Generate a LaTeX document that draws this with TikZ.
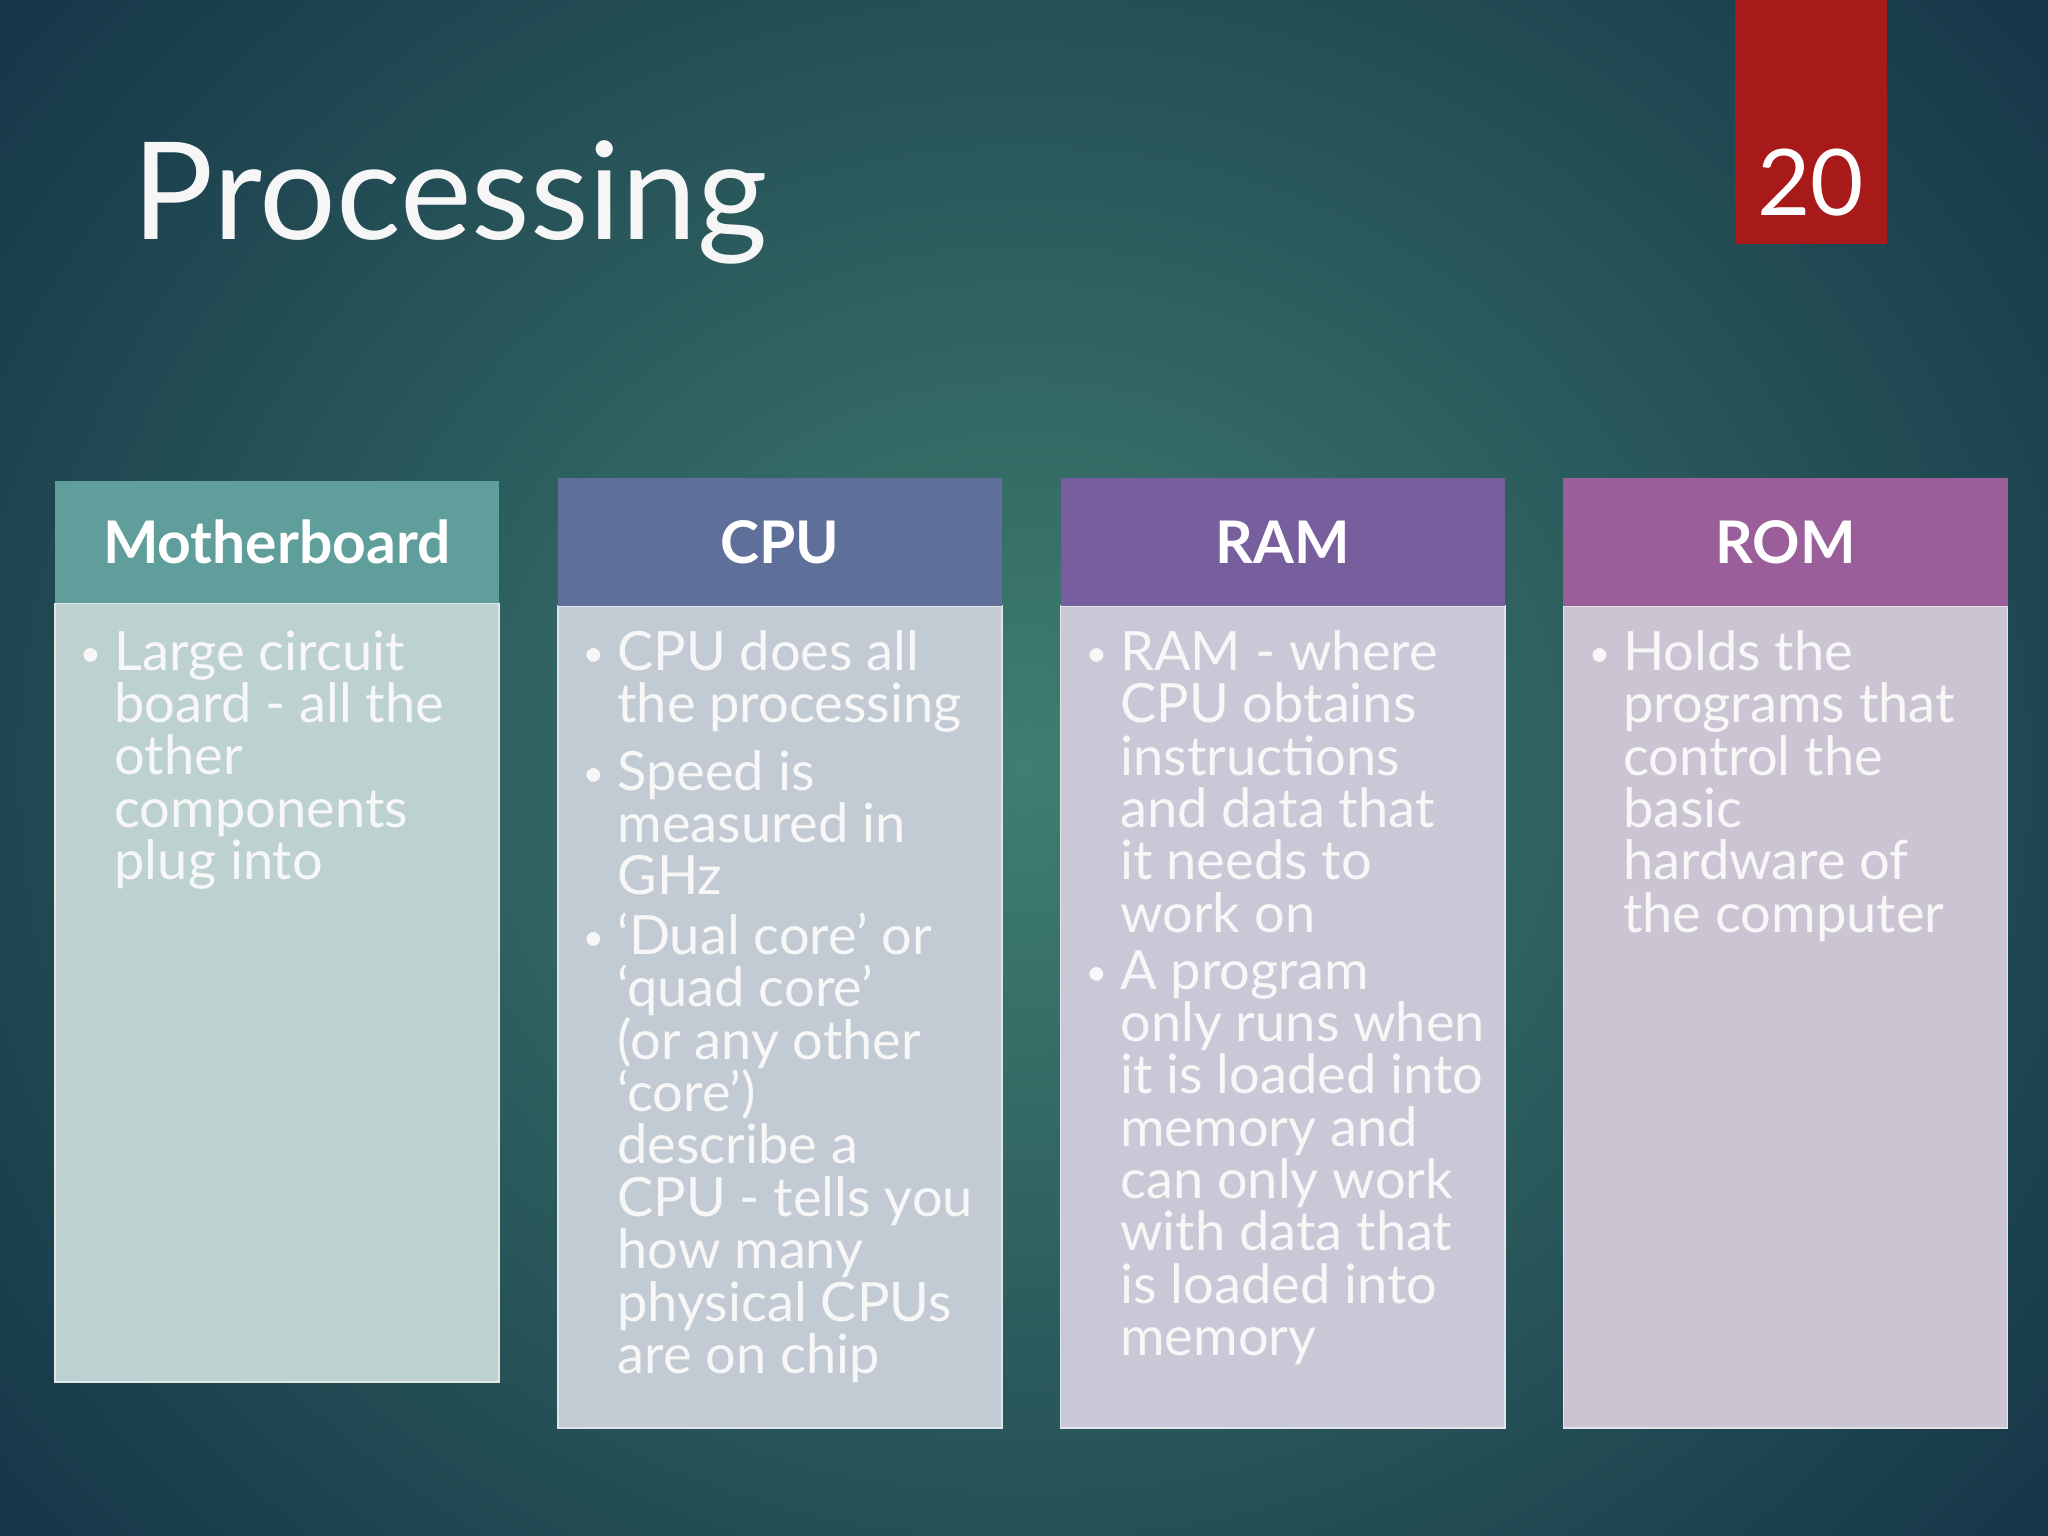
\documentclass[tikz,border=0pt]{standalone}
\usepackage{fontspec}
\setmainfont{Lato}
\begin{document}
\begin{tikzpicture}[x=0.01cm,y=-0.01cm,
  hd/.style={font=\bfseries\fontsize{12.8}{14}\selectfont,text=white},
  bd/.style={anchor=north west,align=none,text=white!94!gray,
    font=\fontsize{11.8}{11.4}\selectfont,inner sep=0pt}]
\useasboundingbox (0,0) rectangle (1568,1176);
\definecolor{bgin}{HTML}{3F7E70}\definecolor{bgout}{HTML}{173849}
\definecolor{h1}{HTML}{5F9E9A}\definecolor{b1}{HTML}{BDD2D0}
\definecolor{h2}{HTML}{5E6F9A}\definecolor{b2}{HTML}{C2CBD4}
\definecolor{h3}{HTML}{775E9C}\definecolor{b3}{HTML}{C8C8D6}
\definecolor{h4}{HTML}{9A5E9A}\definecolor{b4}{HTML}{CBC4D2}
\definecolor{rd}{HTML}{A8191A}
\fill[inner color=bgin,outer color=bgout] (-200,-300) rectangle (1768,1476);
\newcommand{\bl}[1]{\noindent\makebox[0.25cm][l]{\raisebox{0.12em}{\scriptsize$\bullet$}}\parbox[t]{2.9cm}{\raggedright #1}\par\vspace{0.1cm}}
\fill[rd] (1328,0) rectangle (1445,187);
\node[text=white,font=\fontsize{20}{24}\selectfont] (num) at (1386,140) {20};
\node[anchor=base west,text=white!93!gray,font=\fontsize{29.5}{34}\selectfont,inner sep=0pt] (title) at (101,183) {Processing};
\fill[b1,draw=white!50!b1] (42,462) rectangle (382,1058);
\fill[h1] (42,368) rectangle (382,462);
\node[hd] (t1) at (212,415) {Motherboard};
\node[bd] (c1) at (62,482) {\bl{Large circuit\\board - all the\\other\\components\\plug into}};
\fill[b2,draw=white!50!b2] (427,464) rectangle (767,1093);
\fill[h2] (427,366) rectangle (767,464);
\node[hd] (t2) at (597,415) {CPU};
\node[bd] (c2) at (447,482) {\vbox{\hsize=3.3cm\bl{CPU does all\\the processing}\bl{Speed is\\measured in\\GHz}\bl{‘Dual core’ or\\‘quad core’\\(or any other\\‘core’)\\describe a\\CPU - tells you\\how many\\physical CPUs\\are on chip}}};
\fill[b3,draw=white!50!b3] (812,464) rectangle (1152,1093);
\fill[h3] (812,366) rectangle (1152,464);
\node[hd] (t3) at (982,415) {RAM};
\node[bd] (c3) at (832,482) {\vbox{\hsize=3.3cm\bl{RAM - where\\CPU obtains\\instructions\\and data that\\it needs to\\work on}\bl{A program\\only runs when\\it is loaded into\\memory and\\can only work\\with data that\\is loaded into\\memory}}};
\fill[b4,draw=white!50!b4] (1197,464) rectangle (1537,1093);
\fill[h4] (1197,366) rectangle (1537,464);
\node[hd] (t4) at (1367,415) {ROM};
\node[bd] (c4) at (1217,482) {\bl{Holds the\\programs that\\control the\\basic\\hardware of\\the computer}};
\end{tikzpicture}
\end{document}
